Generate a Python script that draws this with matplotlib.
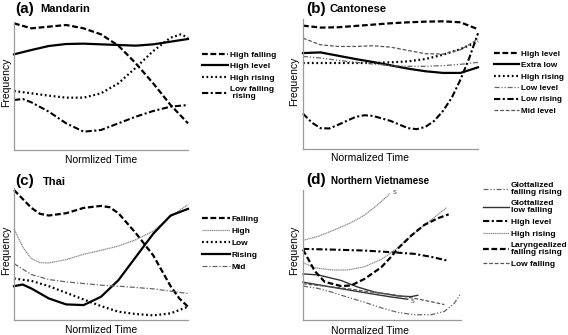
import matplotlib
matplotlib.use('Agg')
import matplotlib.pyplot as plt

plt.rcParams['font.family'] = ['Liberation Sans', 'DejaVu Sans']

# common time grid (normalized time)
T = [0, .1, .2, .3, .4, .5, .6, .7, .8, .9, 1]

# (a) Mandarin
a_high_falling = [380, 365, 370, 375, 365, 347, 313, 260, 200, 135, 80]
a_high_level = [287, 300, 312, 318, 319, 317, 315, 313, 317, 325, 333]
a_high_rising_t = [0, .1, .2, .3, .4, .5, .6, .7, .8, .9, .96, 1]
a_high_rising = [177, 170, 163, 157, 157, 170, 200, 247, 297, 337, 347, 337]
a_low_fr_t = [0, .05, .1, .2, .3, .4, .5, .6, .7, .8, .9, 1]
a_low_fr = [150, 153, 143, 115, 80, 55, 60, 80, 100, 117, 130, 135]

# (b) Cantonese
b_high_level = [373, 367, 368, 372, 376, 380, 383, 385, 386, 383, 362]
b_extra_low = [290, 292, 282, 272, 263, 253, 243, 235, 230, 230, 247]
b_high_rising = [260, 260, 260, 260, 260, 262, 265, 272, 285, 302, 325]
b_low_level = [280, 275, 268, 262, 257, 252, 250, 250, 252, 256, 262]
b_low_rising_t = [0, .05, .1, .15, .2, .3, .35, .4, .5, .6, .65, .7, .75, .8, .85, .9, .95, 1]
b_low_rising = [107, 80, 63, 62, 73, 97, 102, 100, 85, 63, 60, 67, 85, 115, 155, 210, 275, 350]
b_mid_level = [335, 315, 310, 310, 312, 308, 298, 288, 287, 300, 332]

# (c) Thai
c_falling_t = [0, .05, .1, .15, .2, .3, .4, .5, .55, .6, .7, .8, .9, .95, 1]
c_falling = [392, 365, 338, 320, 315, 322, 338, 344, 340, 322, 262, 195, 102, 65, 40]
c_high_t = [0, .05, .1, .15, .2, .3, .4, .5, .6, .7, .8, .9, 1]
c_high = [275, 220, 185, 173, 172, 182, 198, 210, 223, 242, 268, 312, 348]
c_low = [125, 118, 102, 82, 62, 42, 25, 18, 14, 20, 40]
c_rising_t = [0, .05, .1, .2, .3, .4, .5, .6, .7, .8, .9, 1]
c_rising = [102, 107, 95, 65, 47, 45, 70, 120, 190, 260, 315, 335]
c_mid = [170, 137, 122, 115, 110, 105, 102, 98, 94, 87, 80]

# (d) Northern Vietnamese
d_rise_s_t = [0, .095, .2, .305, .39, .47, .55]
d_rise_s = [242, 254, 274, 296, 319, 349, 384]
d_rise_t = [0, .074, .18, .284, .39, .495, .6, .705, .81, .91]
d_rise = [174, 159, 152, 152, 162, 184, 219, 264, 304, 342]
d_high_level_t = [0, .18, .39, .56, .705, .81, .91]
d_high_level = [216, 214, 211, 206, 201, 192, 181]
d_lar_t = [0, .032, .074, .137, .242, .305, .39, .495, .558, .6, .684, .768, .853, .922]
d_lar = [214, 186, 149, 116, 103, 105, 125, 160, 192, 217, 256, 289, 309, 321]
d_glot_low_t = [0, .095, .242, .347, .453, .6, .684, .726]
d_glot_low = [140, 137, 120, 100, 85, 73, 71, 75]
d_glot_low_s_t = [0, .18, .39, .558, .663]
d_glot_low_s = [115, 100, 83, 70, 63]
d_low_falling_t = [0, .137, .284, .432, .6, .747, .895]
d_low_falling = [110, 103, 95, 85, 75, 62, 47]
d_glot_fr_t = [0, .095, .18, .284, .39, .495, .6, .705, .81, .895, .958, 1]
d_glot_fr = [103, 96, 85, 69, 54, 37, 23, 16, 16, 26, 51, 82]

# line styles
thick_dash = dict(color='k', lw=1.6, ls=(0, (2.6, 1.2)))
thick_solid = dict(color='k', lw=1.6)
thick_dot = dict(color='k', lw=1.6, ls=(0, (0.8, 1.2)))
thick_dashdot = dict(color='k', lw=1.5, ls=(0, (3, 1.2, 1, 1.2)))
thin_dashdotdot = dict(color='#666666', lw=0.9, ls=(0, (4, 1.5, 1, 1.5, 1, 1.5)))
thin_dashdot = dict(color='#666666', lw=0.9, ls=(0, (4, 1.5, 1, 1.5)))
thin_dash = dict(color='#555555', lw=0.9, ls=(0, (3, 1.5)))
thin_dot = dict(color='#888888', lw=0.9, ls=(0, (1, 0.5)))
thin_solid = dict(color='#333333', lw=1.0)

W, H = 568, 335
fig = plt.figure(figsize=(W / 100, H / 100), dpi=100)


def make_ax(left, right, top, bottom, ymax):
    ax = fig.add_axes([left / W, 1 - bottom / H, (right - left) / W, (bottom - top) / H])
    ax.set_xlim(0, 1)
    ax.set_ylim(0, ymax)
    ax.set_xticks([])
    ax.set_yticks([])
    for s in ('top', 'right'):
        ax.spines[s].set_visible(False)
    for s in ('left', 'bottom'):
        ax.spines[s].set_color('#9a9a9a')
        ax.spines[s].set_linewidth(0.9)
    ax.patch.set_visible(False)
    return ax


def title(x1, x2, base, letter, name, size):
    fig.text(x1 / W, 1 - base / H, letter, fontsize=11, fontweight='bold', va='baseline')
    fig.text(x2 / W, 1 - base / H, name, fontsize=size, fontweight='bold', va='baseline')


def labels(ax, xlab, xcx, xcy, ycx, ycy, left, right, top, bottom):
    ax.set_xlabel(xlab, fontsize=7.5)
    ax.set_ylabel('Frequency', fontsize=7.5)
    ax.xaxis.set_label_coords((xcx - left) / (right - left), (bottom - xcy) / (bottom - top))
    ax.yaxis.set_label_coords((ycx - left) / (right - left), (bottom - ycy) / (bottom - top))
    ax.xaxis.label.set_va('center')
    ax.yaxis.label.set_va('center')


def legend(ax, x, y, fs, hl, ls, lsp=1.0):
    leg = ax.legend(loc='upper left', bbox_to_anchor=(x / W, 1 - y / H), bbox_transform=fig.transFigure,
                    frameon=False, borderpad=0, borderaxespad=0, handlelength=hl,
                    handletextpad=0.25, labelspacing=ls,
                    prop=dict(size=fs, weight='bold'))
    for t in leg.get_texts():
        t.set_linespacing(lsp)


# (a)
ax = make_ax(14, 188, 22, 150, 384)
ax.plot(T, a_high_falling, label='High falling', clip_on=False, **thick_dash)
ax.plot(T, a_high_level, label='High level', clip_on=False, **thick_solid)
ax.plot(a_high_rising_t, a_high_rising, label='High rising', clip_on=False, **thick_dot)
ax.plot(a_low_fr_t, a_low_fr, label='Low falling\n rising', clip_on=False, **thick_dashdot)
labels(ax, 'Normlized Time', 101, 160, 6, 82, 14, 188, 22, 150)
legend(ax, 202, 51, 6.0, 3.1, 0.45, 1.1)
title(15, 40, 12.5, '(a)', 'Mandarin', 8)

# (b)
ax = make_ax(303, 478, 19, 149, 393)
ax.plot(T, b_high_level, label='High level', clip_on=False, **thick_dash)
ax.plot(T, b_extra_low, label='Extra low', clip_on=False, **thick_solid)
ax.plot(T, b_high_rising, label='High rising', clip_on=False, **thick_dot)
ax.plot(T, b_low_level, label='Low level', clip_on=False, **thin_dashdotdot)
ax.plot(b_low_rising_t, b_low_rising, label='Low rising', clip_on=False, **thick_dashdot)
ax.plot(T, b_mid_level, label='Mid level', clip_on=False, **thin_dash)
labels(ax, 'Normalized Time', 370, 158, 294, 81, 303, 478, 19, 149)
legend(ax, 494, 50, 5.9, 3.1, 0.45)
title(306, 329, 12.5, '(b)', 'Cantonese', 8)

# (c)
ax = make_ax(14, 188, 188, 320, 398)
ax.plot(c_falling_t, c_falling, label='Falling', clip_on=False, **thick_dash)
ax.plot(c_high_t, c_high, label='High', clip_on=False, **thin_dot)
ax.plot(T, c_low, label='Low', clip_on=False, **thick_dot)
ax.plot(c_rising_t, c_rising, label='Rising', clip_on=False, **thick_solid)
ax.plot(T, c_mid, label='Mid', clip_on=False, **thin_dashdot)
labels(ax, 'Normlized Time', 101, 330, 6, 250, 14, 188, 188, 320)
legend(ax, 202, 215, 6.0, 3.3, 0.5)
title(15, 43, 185, '(c)', 'Thai', 8)

# (d)
ax = make_ax(303, 461, 190, 320, 395)
ax.plot(d_glot_fr_t, d_glot_fr, label='Glottalized\nfalling rising', clip_on=False, **thin_dashdotdot)
ax.plot(d_glot_low_t, d_glot_low, label='Glottalized\nlow falling', clip_on=False, **thin_solid)
ax.plot(d_glot_low_s_t, d_glot_low_s, clip_on=False, **thin_solid)
ax.plot(d_high_level_t, d_high_level, label='High level', clip_on=False, **thick_dashdot)
ax.plot(d_rise_t, d_rise, label='High rising', clip_on=False, **thin_dot)
ax.plot(d_rise_s_t, d_rise_s, clip_on=False, **thin_dot)
ax.plot(d_lar_t, d_lar, label='Laryngealized\nfalling rising', clip_on=False, **thick_dash)
ax.plot(d_low_falling_t, d_low_falling, label='Low falling', clip_on=False, **thin_dash)
ax.text(d_rise_s_t[-1] + 0.02, d_rise_s[-1] + 4, 's', fontsize=5.5, color='#555555', va='center')
ax.text(d_glot_low_s_t[-1] + 0.02, d_glot_low_s[-1] - 8, 's', fontsize=5.5, color='#555555', va='center')
labels(ax, 'Normalized Time', 370, 331, 294, 250, 303, 461, 190, 320)
legend(ax, 483, 182, 6.0, 3.1, 0.5, 1.0)
title(306, 331, 183.7, '(d)', 'Northern Vietnamese', 7)

fig.savefig('out.png', dpi=100)
